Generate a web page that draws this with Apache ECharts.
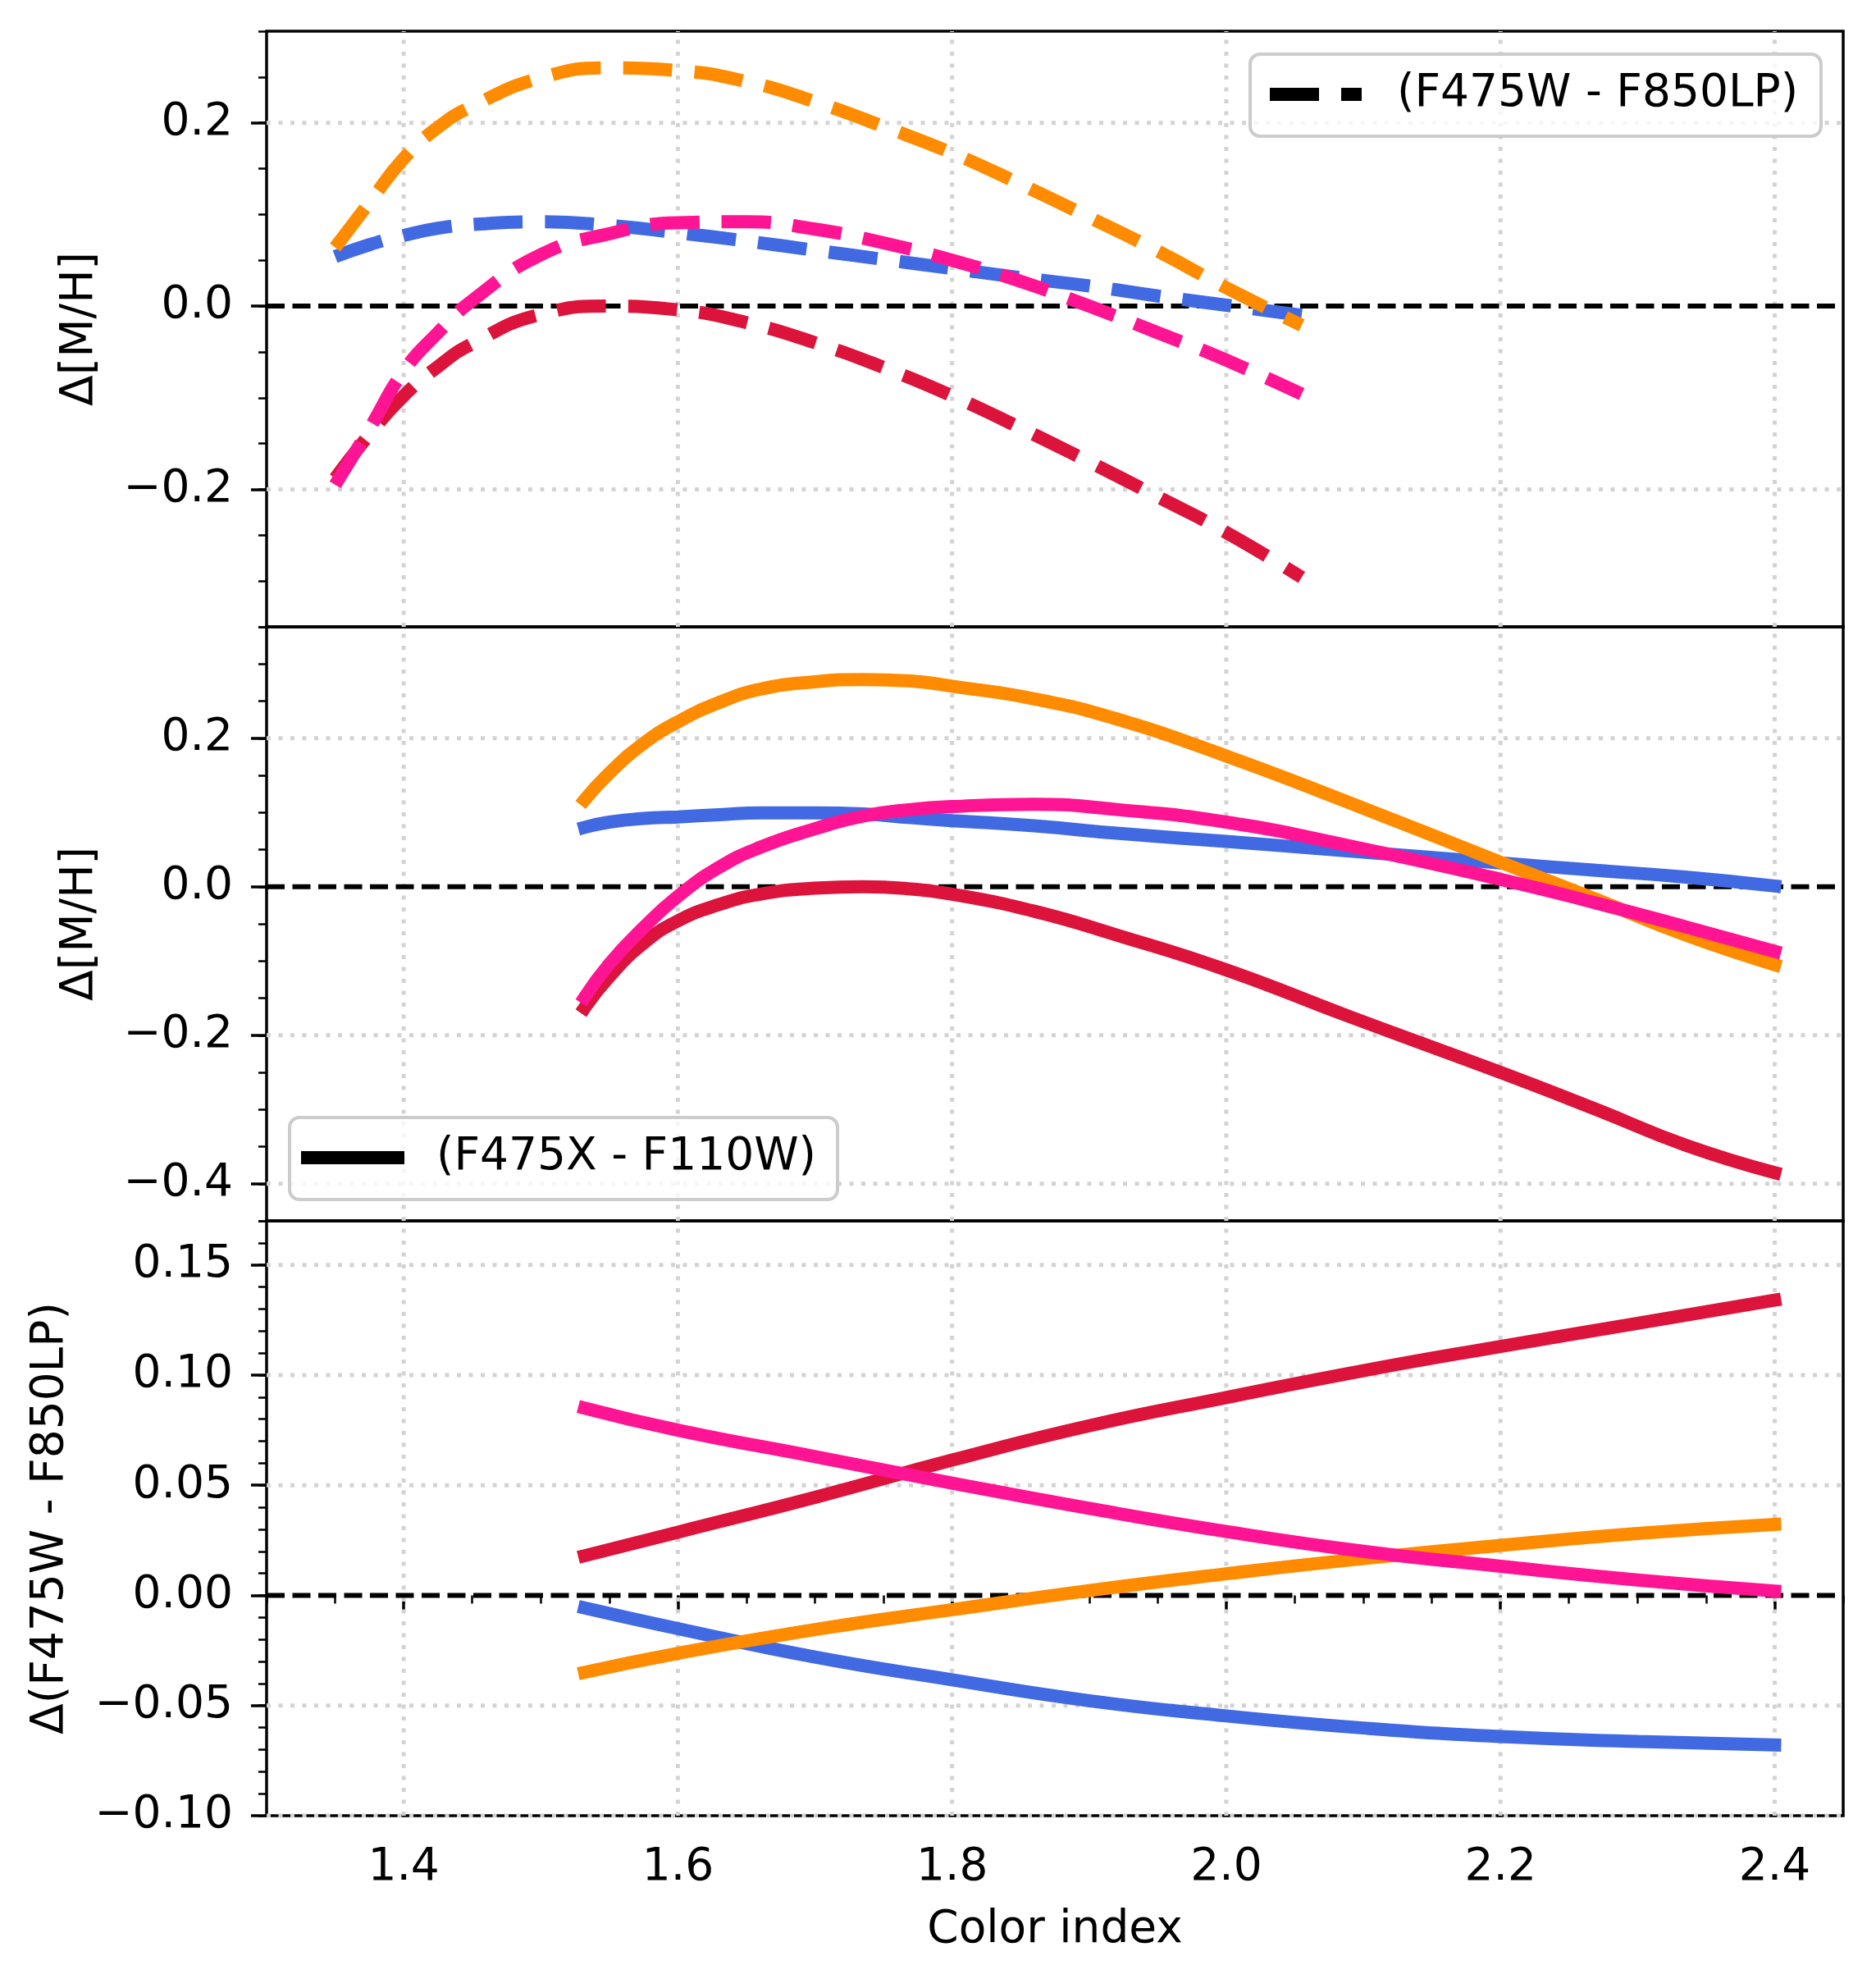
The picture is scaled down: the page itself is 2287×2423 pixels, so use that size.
<!DOCTYPE html>
<html>
<head>
<meta charset="utf-8">
<script src="https://cdn.jsdelivr.net/npm/echarts/dist/echarts.min.js"></script>
<style>
html,body{margin:0;padding:0;background:#fff;}
#chart{width:2287px;height:2423px;}
</style>
</head>
<body>
<div id="chart"></div>
<script>
// ---------- data ----------
const xRange = [1.3, 2.45];
const xTicks = [1.4, 1.6, 1.8, 2.0, 2.2, 2.4];
const xTickLabels = ['1.4', '1.6', '1.8', '2.0', '2.2', '2.4'];

const yRange1 = [-0.35, 0.30];
const yTicks1 = [-0.2, 0.0, 0.2];
const yTickLabels1 = ['\u22120.2', '0.0', '0.2'];
const yRange2 = [-0.45, 0.35];
const yTicks2 = [-0.4, -0.2, 0.0, 0.2];
const yTickLabels2 = ['\u22120.4', '\u22120.2', '0.0', '0.2'];
const yRange3 = [-0.10, 0.17];
const yTicks3 = [-0.10, -0.05, 0.00, 0.05, 0.10, 0.15];
const yTickLabels3 = ['\u22120.10', '\u22120.05', '0.00', '0.05', '0.10', '0.15'];

// panel 1: (F475W - F850LP), dashed
const xs1 = [1.35, 1.375, 1.40, 1.425, 1.45, 1.50, 1.55, 1.60, 1.65, 1.70, 1.75, 1.80, 1.85, 1.90, 1.95, 2.00, 2.055];
const blue1   = [0.054, 0.067, 0.077, 0.085, 0.089, 0.092, 0.088, 0.080, 0.071, 0.061, 0.051, 0.041, 0.031, 0.022, 0.011, 0.001, -0.010];
const orange1 = [0.064, 0.113, 0.161, 0.195, 0.218, 0.249, 0.260, 0.257, 0.245, 0.223, 0.196, 0.167, 0.133, 0.097, 0.060, 0.020, -0.021];
const red1    = [-0.188, -0.140, -0.098, -0.066, -0.041, -0.009, 0.000, -0.004, -0.018, -0.040, -0.067, -0.098, -0.133, -0.170, -0.208, -0.247, -0.296];
const pink1   = [-0.195, -0.134, -0.071, -0.029, 0.006, 0.056, 0.079, 0.091, 0.092, 0.084, 0.069, 0.050, 0.027, 0.000, -0.029, -0.059, -0.096];

// panel 2: (F475X - F110W), solid
const xs2 = [1.532, 1.55, 1.575, 1.60, 1.63, 1.66, 1.70, 1.735, 1.77, 1.80, 1.86, 1.92, 2.00, 2.09, 2.20, 2.27, 2.335, 2.40];
const blue2   = [0.080, 0.087, 0.092, 0.094, 0.097, 0.0995, 0.0995, 0.098, 0.093, 0.089, 0.082, 0.072, 0.061, 0.048, 0.032, 0.022, 0.013, 0.001];
const orange2 = [0.117, 0.153, 0.193, 0.222, 0.248, 0.266, 0.276, 0.279, 0.277, 0.270, 0.253, 0.226, 0.176, 0.113, 0.033, -0.017, -0.065, -0.105];
const red2    = [-0.163, -0.121, -0.076, -0.046, -0.024, -0.010, -0.002, 0.000, -0.003, -0.010, -0.033, -0.065, -0.112, -0.175, -0.250, -0.300, -0.348, -0.385];
const pink2   = [-0.149, -0.104, -0.055, -0.013, 0.026, 0.053, 0.078, 0.095, 0.104, 0.108, 0.111, 0.104, 0.087, 0.055, 0.010, -0.022, -0.054, -0.087];

// panel 3: Δ(F475W - F850LP), solid
const xs3 = [1.532, 1.6, 1.7, 1.8, 1.9, 2.0, 2.1, 2.2, 2.3, 2.4];
const blue3   = [-0.0057, -0.0151, -0.0280, -0.0383, -0.0478, -0.0547, -0.0602, -0.0641, -0.0663, -0.0679];
const orange3 = [-0.0349, -0.0263, -0.0155, -0.0065, 0.0022, 0.0098, 0.0167, 0.0227, 0.0281, 0.0322];
const red3    = [0.018, 0.0287, 0.0445, 0.0614, 0.077, 0.0898, 0.102, 0.113, 0.1235, 0.134];
const pink3   = [0.085, 0.075, 0.063, 0.051, 0.0395, 0.029, 0.020, 0.0132, 0.007, 0.002];

const legend1Text = '(F475W - F850LP)';
const legend2Text = '(F475X - F110W)';
const yName1 = '\u0394[M/H]';
const yName3 = '\u0394(F475W - F850LP)';
const xName = 'Color index';

// ---------- styling ----------
const FONT = 'DejaVu Sans';
const FS = 55;
const C = {blue: '#4169e1', orange: '#ff8c00', red: '#dc143c', pink: '#ff1493'};
const LW = 16;
const DASH = [60, 27];

const grids = [
  {left: 325, top: 38, width: 1922, height: 726},
  {left: 325, top: 764, width: 1922, height: 724},
  {left: 325, top: 1488, width: 1922, height: 725}
].map(g => Object.assign(g, {show: true, borderColor: '#000', borderWidth: 3.5, backgroundColor: 'rgba(0,0,0,0)', containLabel: false}));

function lookup(ticks, labels) {
  return function (v) {
    for (let i = 0; i < ticks.length; i++) if (Math.abs(ticks[i] - v) < 1e-6) return labels[i];
    return '';
  };
}

const hidden = {axisLine: {show: false}, axisTick: {show: false}, axisLabel: {show: false}, splitLine: {show: false}};

const xAxes = [
  Object.assign({type: 'value', gridIndex: 0, min: xRange[0], max: xRange[1]}, hidden),
  Object.assign({type: 'value', gridIndex: 1, min: xRange[0], max: xRange[1]}, hidden),
  {
    type: 'value', gridIndex: 2, min: xRange[0], max: xRange[1], position: 'bottom',
    axisLine: {show: false}, splitLine: {show: false},
    axisTick: {show: true, length: 19, lineStyle: {color: '#000', width: 3.5}, customValues: xTicks},
    axisLabel: {show: true, customValues: xTicks, formatter: lookup(xTicks, xTickLabels), margin: 36,
      fontSize: FS, fontFamily: FONT, color: '#000'},
    name: xName, nameLocation: 'middle', nameGap: 112,
    nameTextStyle: {fontSize: FS, fontFamily: FONT, color: '#000'}
  },
  {
    type: 'value', gridIndex: 2, min: xRange[0], max: xRange[1], interval: 0.05, position: 'bottom',
    axisLine: {show: false}, splitLine: {show: false}, axisLabel: {show: false},
    axisTick: {show: true, length: 10, lineStyle: {color: '#000', width: 2.5}}
  }
];

function yMain(gi, range, ticks, labels, name, gap) {
  return {
    type: 'value', gridIndex: gi, min: range[0], max: range[1], position: 'left',
    axisLine: {show: false}, splitLine: {show: false},
    axisTick: {show: true, length: 19, lineStyle: {color: '#000', width: 3.5}, customValues: ticks},
    axisLabel: {show: true, customValues: ticks, formatter: lookup(ticks, labels), margin: 41,
      fontSize: FS, fontFamily: FONT, color: '#000'},
    name: name, nameLocation: 'middle', nameGap: gap, nameRotate: 90,
    nameTextStyle: {fontSize: FS, fontFamily: FONT, color: '#000'}
  };
}
function yMinor(gi, range, step) {
  return {
    type: 'value', gridIndex: gi, min: range[0], max: range[1], interval: step, position: 'left',
    axisLine: {show: false}, splitLine: {show: false}, axisLabel: {show: false},
    axisTick: {show: true, length: 10, lineStyle: {color: '#000', width: 2.5}}
  };
}
const yAxes = [
  yMain(0, yRange1, yTicks1, yTickLabels1, yName1, 200), yMinor(0, yRange1, 0.05),
  yMain(1, yRange2, yTicks2, yTickLabels2, yName1, 200), yMinor(1, yRange2, 0.05),
  yMain(2, yRange3, yTicks3, yTickLabels3, yName3, 236), yMinor(2, yRange3, 0.01)
];
const yMainIdx = [0, 2, 4];
const yRanges = [yRange1, yRange2, yRange3];
const yTickSets = [yTicks1, yTicks2, yTicks3];

const series = [];
// grid lines (dotted) and zero line (dashed)
for (let g = 0; g < 3; g++) {
  const yr = yRanges[g];
  xTicks.forEach(x => series.push({
    type: 'line', xAxisIndex: g === 2 ? 2 : g, yAxisIndex: yMainIdx[g], silent: true, symbol: 'none', z: 1,
    data: [[x, yr[0]], [x, yr[1]]], lineStyle: {color: '#d3d3d3', width: 5, type: [5, 9.5], cap: 'butt'}
  }));
  yTickSets[g].forEach(y => {
    if (Math.abs(y) < 1e-9) return;
    series.push({
      type: 'line', xAxisIndex: g === 2 ? 2 : g, yAxisIndex: yMainIdx[g], silent: true, symbol: 'none', z: 1,
      data: [[xRange[0], y], [xRange[1], y]], lineStyle: {color: '#d3d3d3', width: 5, type: [5, 9.5], cap: 'butt'}
    });
  });
  series.push({
    type: 'line', xAxisIndex: g === 2 ? 2 : g, yAxisIndex: yMainIdx[g], silent: true, symbol: 'none', z: 2,
    data: [[xRange[0], 0], [xRange[1], 0]], lineStyle: {color: '#000', width: 6, type: [22, 9.5], cap: 'butt'}
  });
}

function curve(g, xs, ys, color, dashed, z) {
  return {
    type: 'line', xAxisIndex: g === 2 ? 2 : g, yAxisIndex: yMainIdx[g], symbol: 'none', silent: true,
    smooth: 0.5, z: z,
    data: xs.map((x, i) => [x, ys[i]]),
    lineStyle: {color: color, width: LW, type: dashed ? DASH : 'solid', cap: dashed ? 'butt' : 'square'}
  };
}
const panels = [
  [xs1, blue1, orange1, red1, pink1, true],
  [xs2, blue2, orange2, red2, pink2, false],
  [xs3, blue3, orange3, red3, pink3, false]
];
panels.forEach((p, g) => {
  series.push(curve(g, p[0], p[1], C.blue, p[5], 3));
  series.push(curve(g, p[0], p[2], C.orange, p[5], 4));
  series.push(curve(g, p[0], p[3], C.red, p[5], 5));
  series.push(curve(g, p[0], p[4], C.pink, p[5], 6));
});

const graphic = [
  {type: 'rect', z: 100, shape: {x: 1524, y: 66, width: 696, height: 100, r: 12},
   style: {fill: 'rgba(255,255,255,0.8)', stroke: '#cccccc', lineWidth: 4}},
  {type: 'line', z: 101, shape: {x1: 1548, y1: 115, x2: 1660, y2: 115},
   style: {stroke: '#000', lineWidth: LW, lineDash: DASH, lineCap: 'butt'}},
  {type: 'text', z: 101, x: 1703, y: 115,
   style: {text: legend1Text, fontSize: FS, fontFamily: FONT, fill: '#000', textVerticalAlign: 'middle', verticalAlign: 'middle'}},
  {type: 'rect', z: 100, shape: {x: 353, y: 1362, width: 668, height: 100, r: 12},
   style: {fill: 'rgba(255,255,255,0.8)', stroke: '#cccccc', lineWidth: 4}},
  {type: 'line', z: 101, shape: {x1: 375, y1: 1411, x2: 485, y2: 1411},
   style: {stroke: '#000', lineWidth: LW, lineCap: 'square'}},
  {type: 'text', z: 101, x: 532, y: 1411,
   style: {text: legend2Text, fontSize: FS, fontFamily: FONT, fill: '#000', textVerticalAlign: 'middle', verticalAlign: 'middle'}}
];

const chart = echarts.init(document.getElementById('chart'), null, {renderer: 'canvas', devicePixelRatio: 1});
chart.setOption({
  backgroundColor: '#fff',
  animation: false,
  grid: grids,
  xAxis: xAxes,
  yAxis: yAxes,
  series: series,
  graphic: graphic
});
</script>
</body>
</html>
